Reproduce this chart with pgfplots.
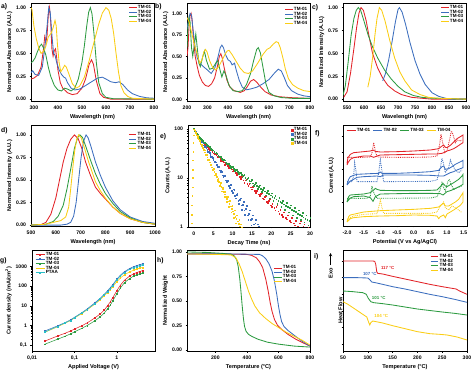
\documentclass[border=0pt]{standalone}
\usepackage{fontspec}
\setmainfont{Liberation Sans}
\usepackage{pgfplots}
\pgfplotsset{compat=1.18}
\definecolor{cR}{RGB}{226,35,40}
\definecolor{cB}{RGB}{60,110,190}
\definecolor{cG}{RGB}{45,155,65}
\definecolor{cY}{RGB}{250,205,20}
\definecolor{cC}{RGB}{40,190,200}
\pgfplotsset{
  P/.style={scale only axis, anchor=south west, tick align=outside, xtick pos=lower, ytick pos=left,
    major tick length=1.5pt, minor tick length=0.8pt,
    every tick/.style={black, line width=0.35pt}, axis line style={line width=0.45pt},
    tick label style={font=\fontsize{5.1}{5.5}\selectfont\bfseries},
    label style={font=\fontsize{5.6}{6.5}\selectfont\bfseries},
    xlabel style={yshift=2.5pt}, ylabel style={yshift=-3pt},
    legend style={font=\fontsize{4.6}{4.8}\selectfont\bfseries, draw=none, fill=none, inner sep=0.5pt, row sep=-1.8pt, nodes={inner sep=0.8pt}},
    legend cell align=left,
    legend image code/.code={\draw[##1, line width=0.9pt] (0pt,0pt) -- (7.5pt,0pt);},
    /pgf/number format/assume math mode=true,
    every axis plot/.append style={line width=0.85pt},
    tick label style={/pgf/number format/1000 sep={}},
  },
  Y2/.style={yticklabel style={/pgf/number format/.cd, fixed, fixed zerofill, precision=2}},
}
\begin{document}
\begin{tikzpicture}
\useasboundingbox (0pt,0pt) rectangle (474pt,370pt);
\tikzset{pl/.style={font=\fontsize{6.8}{7}\selectfont\bfseries, anchor=north west, inner sep=0pt}}
\node[pl] at (1pt,367pt) {a)};
\node[pl] at (155pt,367pt) {b)};
\node[pl] at (312pt,366pt) {c)};
\node[pl] at (1pt,243pt) {d)};
\node[pl] at (160pt,237pt) {e)};
\node[pl] at (315pt,240pt) {f)};
\node[pl] at (0pt,113pt) {g)};
\node[pl] at (157pt,113pt) {h)};
\node[pl] at (314pt,117pt) {i)};

% ---------- a
\begin{axis}[P, Y2, at={(31pt,269pt)}, width=123pt, height=98pt,
  xmin=288, xmax=800, ymin=-0.02, ymax=1.05, xtick={300,400,...,800}, ytick={0,0.25,0.5,0.75,1},
  xlabel={Wavelength (nm)}, ylabel={Normalized Absorbance (A.U.)},
  legend style={at={(0.99,0.99)}, anchor=north east}]
\addplot[cR] coordinates {(288,0.22)(300,0.23)(315,0.26)(330,0.35)(340,0.55)(345,0.68)(350,0.62)(355,0.70)(360,0.92)(365,1.00)(370,0.85)(375,0.55)(380,0.47)(385,0.53)(390,0.55)(395,0.45)(400,0.32)(410,0.18)(420,0.12)(440,0.07)(460,0.05)(480,0.06)(500,0.12)(515,0.22)(530,0.38)(540,0.43)(548,0.38)(560,0.2)(575,0.06)(590,0.02)(620,0.0)(800,0)};
\addlegendentry{TM-01}
\addplot[cB] coordinates {(288,0.29)(295,0.31)(305,0.27)(320,0.26)(335,0.35)(345,0.55)(355,0.8)(362,1.0)(368,0.95)(375,0.7)(382,0.5)(388,0.48)(395,0.4)(405,0.32)(415,0.27)(425,0.24)(432,0.23)(440,0.18)(455,0.12)(470,0.1)(490,0.11)(510,0.14)(540,0.19)(565,0.23)(585,0.24)(600,0.22)(620,0.19)(640,0.18)(655,0.19)(670,0.16)(690,0.1)(710,0.06)(740,0.03)(770,0.015)(800,0.01)};
\addlegendentry{TM-02}
\addplot[cG] coordinates {(288,0.40)(295,0.41)(305,0.45)(315,0.52)(325,0.58)(332,0.60)(340,0.56)(350,0.48)(360,0.35)(370,0.25)(385,0.15)(400,0.10)(415,0.09)(428,0.12)(440,0.11)(455,0.09)(470,0.12)(485,0.22)(500,0.4)(510,0.58)(520,0.8)(528,0.95)(535,1.0)(542,0.93)(550,0.72)(560,0.4)(570,0.18)(585,0.06)(600,0.02)(630,0.005)(800,0)};
\addlegendentry{TM-03}
\addplot[cY] coordinates {(288,1.0)(292,0.98)(300,0.8)(310,0.66)(320,0.56)(330,0.50)(340,0.52)(350,0.58)(360,0.68)(372,0.72)(380,0.78)(388,0.86)(393,0.8)(398,0.6)(405,0.4)(412,0.3)(420,0.33)(428,0.37)(435,0.35)(445,0.28)(460,0.17)(475,0.12)(490,0.14)(510,0.24)(530,0.42)(550,0.62)(570,0.82)(585,0.94)(600,1.0)(612,0.97)(622,0.88)(632,0.72)(642,0.5)(652,0.3)(662,0.15)(675,0.07)(690,0.03)(710,0.01)(800,0)};
\addlegendentry{TM-04}
\end{axis}

% ---------- b
\begin{axis}[P, Y2, at={(187pt,269pt)}, width=123pt, height=98pt,
  xmin=200, xmax=800, ymin=-0.02, ymax=1.12, xtick={200,300,...,800}, ytick={0,0.25,0.5,0.75,1},
  xlabel={Wavelength (nm)}, ylabel={Normalized Absorbance (A.U.)},
  legend style={at={(0.99,0.97)}, anchor=north east}]
\addplot[cR] coordinates {(200,0.5)(205,0.6)(210,0.85)(215,0.97)(220,1.0)(225,0.92)(232,0.7)(240,0.5)(250,0.38)(260,0.28)(275,0.2)(290,0.16)(305,0.15)(320,0.18)(335,0.25)(348,0.38)(358,0.5)(365,0.53)(372,0.48)(382,0.36)(395,0.22)(410,0.14)(430,0.1)(460,0.08)(480,0.1)(495,0.15)(510,0.21)(525,0.23)(540,0.2)(560,0.14)(580,0.09)(610,0.05)(650,0.03)(700,0.02)(800,0.01)};
\addlegendentry{TM-01}
\addplot[cB] coordinates {(200,0.82)(207,0.92)(215,1.0)(222,0.98)(230,0.8)(240,0.6)(250,0.48)(262,0.42)(280,0.38)(300,0.34)(318,0.3)(335,0.36)(350,0.48)(362,0.6)(370,0.63)(378,0.6)(388,0.52)(400,0.46)(412,0.44)(420,0.4)(432,0.42)(440,0.34)(455,0.22)(470,0.14)(490,0.11)(510,0.12)(540,0.14)(570,0.18)(600,0.23)(625,0.3)(645,0.35)(660,0.33)(675,0.25)(690,0.16)(710,0.1)(740,0.06)(770,0.04)(800,0.03)};
\addlegendentry{TM-02}
\addplot[cG] coordinates {(200,0.6)(205,0.85)(210,0.95)(215,0.9)(222,0.6)(228,0.5)(235,0.62)(243,0.76)(250,0.6)(258,0.42)(265,0.38)(275,0.48)(285,0.56)(295,0.45)(310,0.35)(325,0.36)(340,0.42)(350,0.45)(360,0.35)(370,0.26)(380,0.33)(390,0.28)(405,0.16)(425,0.1)(450,0.09)(470,0.1)(490,0.17)(510,0.3)(525,0.45)(540,0.58)(548,0.6)(558,0.54)(570,0.38)(585,0.18)(600,0.08)(625,0.04)(660,0.02)(720,0.01)(800,0.01)};
\addlegendentry{TM-03}
\addplot[cY] coordinates {(200,0.95)(210,0.9)(220,0.8)(235,0.65)(250,0.52)(262,0.42)(272,0.45)(282,0.55)(290,0.58)(298,0.55)(310,0.45)(325,0.37)(340,0.34)(355,0.38)(370,0.45)(385,0.52)(395,0.56)(405,0.57)(420,0.52)(440,0.44)(460,0.36)(480,0.31)(500,0.3)(520,0.33)(545,0.42)(570,0.52)(590,0.58)(605,0.6)(620,0.64)(635,0.67)(645,0.66)(655,0.6)(668,0.48)(680,0.35)(695,0.24)(715,0.17)(740,0.13)(770,0.1)(800,0.09)};
\addlegendentry{TM-04}
\end{axis}

% ---------- c
\begin{axis}[P, Y2, at={(343pt,269pt)}, width=123pt, height=98pt,
  xmin=538, xmax=900, ymin=-0.02, ymax=1.05, xtick={550,600,...,900}, ytick={0,0.25,0.5,0.75,1},
  xlabel={Wavelength (nm)}, ylabel={Normalized Intensity (A.U.)},
  legend style={at={(0.99,0.99)}, anchor=north east}]
\addplot[cR] coordinates {(540,0.02)(550,0.08)(560,0.28)(570,0.55)(578,0.78)(585,0.94)(591,1.0)(598,0.97)(606,0.86)(615,0.68)(625,0.5)(640,0.34)(655,0.23)(670,0.15)(690,0.09)(710,0.05)(740,0.02)(770,0.01)(800,0.0)(900,0)};
\addlegendentry{TM-01}
\addplot[cB] coordinates {(655,0.2)(663,0.28)(672,0.42)(682,0.62)(692,0.84)(700,0.98)(704,1.0)(712,0.95)(722,0.82)(735,0.62)(750,0.42)(765,0.27)(780,0.16)(800,0.07)(820,0.03)(850,0.0)(900,0)};
\addlegendentry{TM-02}
\addplot[cG] coordinates {(538,0.04)(545,0.15)(553,0.4)(562,0.7)(570,0.88)(577,0.97)(583,1.0)(590,0.97)(600,0.85)(612,0.7)(625,0.57)(640,0.45)(660,0.32)(680,0.22)(700,0.14)(720,0.08)(745,0.04)(770,0.02)(800,0.01)(900,0)};
\addlegendentry{TM-03}
\addplot[cY] coordinates {(611,0.13)(618,0.25)(625,0.45)(632,0.7)(638,0.88)(645,1.0)(652,0.97)(662,0.85)(675,0.65)(690,0.45)(705,0.3)(720,0.2)(740,0.1)(765,0.05)(790,0.02)(820,0.01)(900,0)};
\addlegendentry{TM-04}
\end{axis}

% ---------- d
\begin{axis}[P, Y2, at={(31pt,144pt)}, width=124pt, height=101pt,
  xmin=500, xmax=1000, ymin=-0.01, ymax=1.11, xtick={500,600,...,1000}, ytick={0,0.25,0.5,0.75,1},
  xlabel={Wavelength (nm)}, ylabel={Normalized Intensity (A.U.)},
  legend style={at={(0.98,0.94)}, anchor=north east}]
\addplot[cR] coordinates {(500,0)(540,0.005)(560,0.03)(580,0.12)(600,0.3)(615,0.5)(630,0.7)(645,0.85)(660,0.95)(675,1.0)(690,0.96)(705,0.85)(720,0.7)(740,0.55)(760,0.42)(780,0.35)(800,0.29)(830,0.2)(860,0.13)(900,0.07)(950,0.03)(1000,0.01)};
\addlegendentry{TM-01}
\addplot[cB] coordinates {(500,0)(620,0.0)(645,0.01)(660,0.03)(672,0.1)(682,0.25)(692,0.5)(702,0.75)(712,0.93)(722,1.0)(730,0.97)(742,0.87)(760,0.7)(780,0.55)(800,0.42)(830,0.27)(860,0.17)(900,0.09)(950,0.04)(1000,0.02)};
\addlegendentry{TM-02}
\addplot[cG] coordinates {(500,0)(560,0.01)(590,0.04)(610,0.1)(630,0.22)(645,0.4)(660,0.62)(675,0.85)(688,0.97)(697,1.0)(708,0.97)(720,0.88)(740,0.72)(760,0.57)(780,0.45)(800,0.35)(830,0.24)(860,0.15)(900,0.08)(950,0.03)(1000,0.01)};
\addlegendentry{TM-03}
\addplot[cY] coordinates {(500,0)(560,0.01)(590,0.03)(620,0.05)(640,0.09)(652,0.2)(660,0.4)(668,0.62)(676,0.82)(684,0.95)(692,1.0)(702,0.97)(715,0.86)(730,0.72)(745,0.6)(760,0.48)(780,0.38)(800,0.3)(830,0.2)(860,0.13)(900,0.07)(950,0.03)(1000,0.01)};
\addlegendentry{TM-04}
\end{axis}

% ---------- e
\begin{axis}[P, at={(188pt,143pt)}, width=122pt, height=102pt,
  xmin=-1.5, xmax=30, ymode=log, ymin=1, ymax=120, xtick={0,5,...,30}, ytick={1,10,100}, yticklabels={1,10,100},
  xlabel={Decay Time (ns)}, ylabel={Counts (A.U.)},
  legend style={at={(0.99,0.99)}, anchor=north east},
  legend image code/.code={\draw[#1, mark size=0.9pt] plot coordinates {(4pt,0pt)};},
  every axis plot/.append style={only marks, mark=square*, mark size=0.35pt, line width=0.2pt}]
\addplot[cR] coordinates {(0,100)(0.5,87)(1,73)(1.5,67)(2,57)(2.5,53)(3,46)(3.5,44)(4,38)(4.5,37)(5,32)(5.5,31.5)(6,27)(6.5,26.8)(7,22.5)(7.5,22.8)(8,19)(8.5,19.3)(9,16.2)(9.5,16.5)(10,13.8)(10.5,14.1)(11,11.6)(11.5,12.1)(12,9.6)(12.5,10.6)(13,8.1)(13.5,9.2)(14,7.0)(14.5,7.9)(15,5.9)(15.5,6.8)(16,5.1)(16.5,5.9)(17,4.4)(17.5,5.0)(18,3.7)(18.5,4.4)(19,3.1)(19.5,3.8)(20,2.6)(20.5,3.4)(21,2.2)(21.5,2.9)(22,1.9)(22.5,2.6)(23,1.65)(23.5,2.25)(24,1.45)(24.5,2.0)(25,1.25)(25.5,1.75)(26,1.1)(26.5,1.55)(27,0.95)(27.5,1.35)(28,0.85)(28.5,1.15)(29,0.75)(29.5,1.0)(30,0.65)
(0.25,92)(0.75,80)(1.25,71)(1.75,61)(2.25,56)(2.75,49)(3.25,45.5)(3.75,40)(4.25,38)(4.75,34)(5.25,31)(5.75,29.5)(6.25,26.5)(6.75,25)(7.25,23)(7.75,21)(8.25,19.8)(8.75,17.8)(9.25,16.9)(9.75,15.1)(10.25,14.6)(10.75,12.9)(11.25,12.4)(11.75,10.8)(12.25,10.6)(12.75,9.1)(13.25,9.0)(13.75,7.7)(14.25,7.6)(14.75,6.5)(15.25,6.6)(15.75,5.5)(16.25,5.6)(16.75,4.7)(17.25,4.8)(17.75,3.9)(18.25,4.1)(18.75,3.3)(19.25,3.5)(19.75,2.8)(20.25,3.0)(20.75,2.45)(21.25,2.6)(21.75,2.1)(22.25,2.3)(22.75,1.8)(23.25,2.0)(23.75,1.55)(24.25,1.75)(24.75,1.35)(25.25,1.55)(25.75,1.2)(26.25,1.35)(26.75,1.05)(27.25,1.2)(27.75,0.95)(28.25,1.05)};
\addlegendentry{TM-01}
\addplot[cB] coordinates {(0,100)(0.4,88)(0.8,80.5)(1.2,70)(1.6,64)(2.0,55.5)(2.4,51)(2.8,44)(3.2,40.8)(3.6,35)(4.0,32.6)(4.4,27.6)(4.8,26.2)(5.2,21.7)(5.6,21)(6.0,17.1)(6.4,16.9)(6.8,13.4)(7.2,13.6)(7.6,10.5)(8.0,11)(8.4,8.3)(8.8,8.9)(9.2,6.4)(9.6,7.2)(10.0,5.0)(10.4,5.8)(10.8,3.9)(11.2,4.8)(11.6,3.0)(12.0,3.9)(12.4,2.3)(12.8,3.3)(13.2,1.8)(13.6,2.7)(14.0,1.4)(14.4,2.2)(14.8,1.1)(15.2,1.75)(15.6,0.9)(16.0,1.4)(16.4,1.15)(16.8,1.05)(17.2,0.95)
(0.2,93)(0.6,85)(1.0,75)(1.4,68)(1.8,59)(2.2,54)(2.6,47)(3.0,43)(3.4,37.5)(3.8,34)(4.2,29.5)(4.6,27.2)(5.0,23.4)(5.4,21.8)(5.8,18.6)(6.2,17.4)(6.6,14.5)(7.0,14.1)(7.4,11.4)(7.8,11.3)(8.2,9.0)(8.6,9.1)(9.0,7.0)(9.4,7.3)(9.8,5.5)(10.2,5.9)(10.6,4.4)(11.0,4.6)(11.4,3.5)(11.8,3.6)(12.2,2.8)(12.6,2.9)(13.0,2.2)(13.4,2.4)(13.8,1.75)(14.2,1.9)(14.6,1.4)(15.0,1.5)(15.4,1.15)(15.8,1.2)};
\addlegendentry{TM-02}
\addplot[cG] coordinates {(0,100)(0.5,86)(1,76)(1.5,66)(2,61)(2.5,54)(3,51)(3.5,45)(4,43)(4.5,38)(5,37)(5.5,32)(6,31.5)(6.5,27)(7,27)(7.5,23)(8,23)(8.5,19.5)(9,19.8)(9.5,16.5)(10,16.8)(10.5,14.1)(11,14.8)(11.5,12.1)(12,13.0)(12.5,10.4)(13,11.6)(13.5,9.0)(14,10.3)(14.5,7.8)(15,9.2)(15.5,6.9)(16,8.1)(16.5,6.0)(17,7.1)(17.5,5.2)(18,6.3)(18.5,4.5)(19,5.6)(19.5,3.9)(20,4.9)(20.5,3.4)(21,4.4)(21.5,3.0)(22,4.0)(22.5,2.6)(23,3.5)(23.5,2.3)(24,3.1)(24.5,2.0)(25,2.8)(25.5,1.75)(26,2.5)(26.5,1.55)(27,2.2)(27.5,1.4)(28,1.95)(28.5,1.25)(29,1.75)(29.5,1.1)(30,1.55)
(0.25,93)(0.75,81)(1.25,71)(1.75,64)(2.25,57)(2.75,53)(3.25,48)(3.75,44.5)(4.25,40)(4.75,38)(5.25,34)(5.75,32.5)(6.25,29)(6.75,27.5)(7.25,24.8)(7.75,23.5)(8.25,21)(8.75,20.2)(9.25,18)(9.75,17.4)(10.25,15.4)(10.75,15)(11.25,13.3)(11.75,12.9)(12.25,11.6)(12.75,11.2)(13.25,10.1)(13.75,9.8)(14.25,8.8)(14.75,8.6)(15.25,7.8)(15.75,7.5)(16.25,6.9)(16.75,6.6)(17.25,6.1)(17.75,5.8)(18.25,5.4)(18.75,5.1)(19.25,4.8)(19.75,4.5)(20.25,4.2)(20.75,4.0)(21.25,3.7)(21.75,3.5)(22.25,3.3)(22.75,3.1)(23.25,2.95)(23.75,2.75)(24.25,2.6)(24.75,2.45)(25.25,2.3)(25.75,2.15)(26.25,2.05)(26.75,1.9)(27.25,1.8)(27.75,1.7)(28.25,1.6)(28.75,1.5)(29.25,1.4)(29.75,1.35)};
\addlegendentry{TM-03}
\addplot[cY] coordinates {(-0.6,1.2)(-0.55,1.8)(-0.5,2.8)(-0.45,4.3)(-0.4,6.5)(-0.35,10)(-0.3,15)(-0.25,23)(-0.2,35)(-0.15,52)(-0.1,75)(0,99)(0.3,90)(0.6,78)(0.9,72)(1.2,62)(1.5,57.5)(1.8,49)(2.1,46)(2.4,38.5)(2.7,36.8)(3.0,30)(3.3,29.5)(3.6,23.6)(3.9,23.8)(4.2,18.6)(4.5,19)(4.8,14.6)(5.1,15.3)(5.4,11.4)(5.7,12.3)(6.0,8.9)(6.3,9.9)(6.6,7.0)(6.9,8.0)(7.2,5.4)(7.5,6.4)(7.8,4.2)(8.1,5.2)(8.4,3.3)(8.7,4.2)(9.0,2.6)(9.3,3.4)(9.6,2.0)(9.9,2.7)(10.2,1.55)(10.5,2.2)(10.8,1.2)(11.1,1.75)(11.4,0.95)(11.7,1.4)(12.0,1.15)(12.3,1.0)
(0.15,95)(0.45,84)(0.75,75)(1.05,67)(1.35,60)(1.65,53)(1.95,47.5)(2.25,42)(2.55,37.5)(2.85,33.5)(3.15,29.8)(3.45,26.5)(3.75,23.7)(4.05,21)(4.35,18.8)(4.65,16.7)(4.95,14.9)(5.25,13.3)(5.55,11.8)(5.85,10.6)(6.15,9.4)(6.45,8.4)(6.75,7.5)(7.05,6.7)(7.35,5.9)(7.65,5.3)(7.95,4.7)(8.25,4.2)(8.55,3.75)(8.85,3.35)(9.15,3.0)(9.45,2.65)(9.75,2.35)(10.05,2.1)(10.35,1.85)(10.65,1.65)(10.95,1.5)(11.25,1.32)(11.55,1.18)(11.85,1.05)};
\addlegendentry{TM-04}
\end{axis}

% ---------- f
\begin{axis}[P, at={(343pt,144pt)}, width=124pt, height=101pt,
  xmin=-2.12, xmax=1.6, ymin=0, ymax=303, xtick={-2,-1.5,...,1.5}, ytick={20,70,...,270}, yticklabels={},
  xticklabel style={/pgf/number format/.cd, fixed, fixed zerofill, precision=1},
  xlabel={Potential (V vs Ag/AgCl)}, ylabel={Current (A.U.)},
  legend columns=4, legend style={at={(0.02,0.985)}, anchor=north west, /tikz/every even column/.append style={column sep=2pt}},
  legend image code/.code={\draw[#1, line width=0.9pt] (0pt,0pt) -- (9pt,0pt);}]
\addplot[cR] coordinates {(-2.0,188)(-1.97,205)(-1.9,215)(-1.8,220)(-1.5,223)(-1.3,225)(-1.22,228)(-1.15,224)(-1.0,222)(-0.5,223)(0,225)(0.5,228)(0.75,232)(0.85,240)(0.9,243)(0.95,236)(1.0,235)(1.1,242)(1.2,252)(1.3,262)(1.4,268)(1.48,273)(1.48,250)(1.4,245)(1.3,238)(1.2,232)(1.1,228)(1.0,225)(0.9,220)(0.85,218)(0.7,216)(0.5,216)(0,215)(-0.5,214)(-1.0,213)(-1.1,210)(-1.2,206)(-1.3,210)(-1.5,210)(-1.8,205)(-1.9,200)(-1.97,190)(-2.0,183)};
\addlegendentry{TM-01}
\addplot[cB] coordinates {(-2.0,125)(-1.95,140)(-1.9,148)(-1.8,152)(-1.7,155)(-1.3,157)(-1.05,158)(-1.0,162)(-0.95,158)(-0.5,158)(0,160)(0.5,163)(0.75,167)(0.85,178)(0.9,180)(0.95,170)(1.05,172)(1.15,178)(1.25,185)(1.35,190)(1.45,195)(1.48,197)(1.48,175)(1.4,172)(1.3,168)(1.2,163)(1.1,160)(1.0,155)(0.9,150)(0.8,150)(0.5,152)(0,153)(-0.5,153)(-0.9,153)(-1.0,148)(-1.1,150)(-1.5,148)(-1.7,146)(-1.8,140)(-1.9,135)(-2.0,123)};
\addlegendentry{TM-02}
\addplot[cG] coordinates {(-2.0,73)(-1.95,88)(-1.9,93)(-1.5,96)(-1.3,100)(-1.2,108)(-1.15,113)(-1.1,110)(-1.0,107)(-0.5,106)(0,106)(0.5,107)(0.7,108)(0.8,118)(0.88,128)(0.95,120)(1.0,118)(1.1,124)(1.2,130)(1.35,140)(1.45,150)(1.48,155)(1.48,125)(1.4,120)(1.3,115)(1.2,110)(1.1,106)(1.0,103)(0.88,93)(0.8,97)(0.5,98)(0,98)(-0.5,97)(-1.0,96)(-1.15,88)(-1.22,74)(-1.3,85)(-1.5,90)(-1.8,88)(-1.9,84)(-2.0,72)};
\addlegendentry{TM-03}
\addplot[cY] coordinates {(-2.0,13)(-1.95,28)(-1.9,33)(-1.5,42)(-1.0,46)(-0.5,48)(0,50)(0.5,53)(0.75,57)(0.85,65)(0.9,68)(0.95,60)(1.05,60)(1.15,66)(1.25,72)(1.35,80)(1.45,95)(1.48,100)(1.48,72)(1.4,62)(1.3,55)(1.2,48)(1.1,42)(1.0,36)(0.95,25)(0.9,33)(0.8,28)(0.75,22)(0.7,30)(0.5,32)(0,33)(-0.5,31)(-1.0,30)(-1.5,28)(-1.8,25)(-1.9,22)(-2.0,12)};
\addlegendentry{TM-04}
\addplot[cR, densely dotted, forget plot] coordinates {(-2.0,206)(-1.5,206)(-1.3,207)(-1.25,220)(-1.2,250)(-1.15,225)(-1.1,207)(-0.5,206)(0,206)(0.5,207)(0.7,210)(0.78,245)(0.82,275)(0.87,250)(0.93,220)(1.0,225)(1.08,260)(1.13,285)(1.18,275)(1.25,250)(1.3,258)(1.4,255)(1.45,258)};
\addplot[cB, densely dotted, forget plot] coordinates {(-2.0,133)(-1.85,133)(-1.8,150)(-1.77,190)(-1.73,165)(-1.7,133)(-1.1,133)(-1.05,160)(-1.0,198)(-0.95,165)(-0.9,133)(0.5,134)(0.7,138)(0.8,175)(0.85,203)(0.9,185)(0.95,160)(1.05,175)(1.1,198)(1.15,185)(1.25,168)(1.35,160)(1.45,168)};
\addplot[cG, densely dotted, forget plot] coordinates {(-2.0,83)(-1.4,83)(-1.3,90)(-1.25,120)(-1.2,100)(-1.1,83)(0.5,84)(0.7,88)(0.8,110)(0.85,130)(0.9,115)(0.95,105)(1.03,135)(1.07,140)(1.12,125)(1.2,110)(1.3,115)(1.45,120)};
\addplot[cY, densely dotted, forget plot] coordinates {(-2.0,20)(-1.8,30)(-1.5,35)(-1.1,37)(-1.05,55)(-1.0,78)(-0.95,55)(-0.9,38)(0.5,38)(0.7,42)(0.8,60)(0.9,72)(0.95,55)(1.05,48)(1.15,60)(1.25,55)(1.35,48)(1.45,40)};
\end{axis}

% ---------- g
\begin{axis}[P, at={(32pt,19pt)}, width=123pt, height=101pt,
  xmode=log, ymode=log, xmin=0.01, xmax=7.9, ymin=0.05, ymax=7000,
  xtick={0.01,0.1,1}, xticklabels={{0,01},{0,1},1}, ytick={0.1,1,10,100,1000}, yticklabels={{0,1},1,10,100,1000},
  xlabel={Applied Voltage (V)}, ylabel={Current density (mA/cm\textsuperscript{2})},
  legend style={at={(0.02,0.99)}, anchor=north west},
  legend image code/.code={\draw[mark repeat=2,mark phase=2,#1, line width=0.9pt] plot coordinates {(0pt,0pt)(4.5pt,0pt)(9pt,0pt)};},
  every axis plot/.append style={mark=square*, mark size=0.45pt, line width=0.55pt}]
\addplot[cR] coordinates {(0.02,0.16)(0.04,0.29)(0.06,0.4)(0.08,0.52)(0.1,0.65)(0.15,0.98)(0.2,1.35)(0.3,2.4)(0.4,3.8)(0.5,6)(0.6,10)(0.7,16)(0.8,26)(1.0,60)(1.2,110)(1.5,200)(2,330)(2.5,430)(3,510)(3.5,570)(4,620)};
\addlegendentry{TM-01}
\addplot[cB] coordinates {(0.02,0.52)(0.04,0.95)(0.06,1.4)(0.08,1.9)(0.1,2.6)(0.15,4.5)(0.2,7)(0.3,14)(0.4,24)(0.5,38)(0.6,58)(0.7,85)(0.8,120)(1.0,230)(1.2,360)(1.5,550)(2,800)(2.5,1000)(3,1150)(3.5,1270)(4,1370)};
\addlegendentry{TM-02}
\addplot[cG] coordinates {(0.02,0.11)(0.04,0.2)(0.06,0.28)(0.08,0.37)(0.1,0.47)(0.15,0.72)(0.2,1.0)(0.3,1.7)(0.4,2.7)(0.5,4.2)(0.6,7)(0.7,11)(0.8,18)(1.0,42)(1.2,80)(1.5,150)(2,250)(2.5,330)(3,390)(3.5,430)(4,460)};
\addlegendentry{TM-03}
\addplot[cY] coordinates {(0.02,0.45)(0.04,0.85)(0.06,1.3)(0.08,1.75)(0.1,2.4)(0.15,4.1)(0.2,6.3)(0.3,12)(0.4,20)(0.5,32)(0.6,47)(0.7,68)(0.8,95)(1.0,170)(1.2,260)(1.5,380)(2,540)(2.5,660)(3,760)(3.5,840)(4,900)};
\addlegendentry{TM-04}
\addplot[cC] coordinates {(0.02,0.46)(0.04,0.9)(0.06,1.35)(0.08,1.8)(0.1,2.5)(0.15,4.3)(0.2,6.6)(0.3,13)(0.4,22)(0.5,35)(0.6,53)(0.7,78)(0.8,110)(1.0,210)(1.2,330)(1.5,500)(2,730)(2.5,900)(3,1020)(3.5,1110)(4,1200)};
\addlegendentry{PTAA}
\end{axis}

% ---------- h
\begin{axis}[P, Y2, at={(187pt,19pt)}, width=123pt, height=101pt,
  xmin=20, xmax=800, ymin=-0.01, ymax=1.02, xtick={200,400,600,800}, ytick={0,0.25,0.5,0.75,1},
  xlabel={Temperature (°C)}, ylabel={Normalized Weight},
  legend style={at={(0.7,0.86)}, anchor=north west}]
\addplot[cR] coordinates {(20,0.98)(200,0.98)(400,0.975)(430,0.965)(460,0.94)(480,0.9)(500,0.84)(520,0.72)(535,0.6)(548,0.48)(560,0.39)(575,0.31)(595,0.25)(620,0.21)(660,0.16)(710,0.11)(760,0.07)(800,0.04)};
\addlegendentry{TM-01}
\addplot[cB] coordinates {(20,0.98)(300,0.98)(480,0.975)(500,0.96)(520,0.93)(540,0.88)(560,0.8)(575,0.7)(590,0.56)(600,0.45)(610,0.36)(620,0.29)(635,0.24)(660,0.2)(700,0.15)(750,0.09)(800,0.04)};
\addlegendentry{TM-02}
\addplot[cG] coordinates {(20,1.0)(150,0.995)(250,0.985)(300,0.975)(320,0.96)(335,0.92)(345,0.85)(355,0.72)(362,0.6)(370,0.45)(378,0.32)(385,0.24)(395,0.19)(410,0.16)(430,0.14)(470,0.11)(530,0.08)(600,0.06)(700,0.04)(800,0.03)};
\addlegendentry{TM-03}
\addplot[cY] coordinates {(20,0.98)(200,0.975)(300,0.97)(330,0.94)(350,0.88)(370,0.8)(390,0.7)(410,0.6)(430,0.52)(450,0.45)(480,0.38)(520,0.32)(560,0.27)(600,0.23)(650,0.18)(700,0.14)(750,0.1)(800,0.05)};
\addlegendentry{TM-04}
\end{axis}

% ---------- i
\begin{axis}[P, at={(343pt,19pt)}, width=124pt, height=101pt,
  xmin=50, xmax=300, ymin=0, ymax=303, xtick={50,100,...,300}, ytick={20,70,...,270}, yticklabels={},
  xlabel={Temperature (°C)}, ylabel={Heat Flow}, ylabel style={at={(rel axis cs:0,0.4)}},
  legend style={at={(0.7,0.97)}, anchor=north west},
  after end axis/.code={\node[rotate=90, font=\fontsize{5.6}{6.5}\selectfont\bfseries] at (rel axis cs:-0.1,0.77) {Exo};
    \draw[-stealth, line width=0.45pt] (rel axis cs:-0.1,0.85) -- (rel axis cs:-0.1,0.97);}]
\addplot[cR] coordinates {(50,270)(80,270)(110,270)(114,269)(116,260)(118,238)(120,233)(130,231)(150,224)(175,216)(200,208)(225,200)(250,193)(270,188)(278,186)(285,180)(300,170)};
\addlegendentry{TM-01}
\addplot[cB] coordinates {(50,220)(80,220)(100,219)(104,214)(108,207)(115,205)(130,200)(150,193)(175,186)(200,178)(225,170)(250,163)(275,155)(300,146)};
\addlegendentry{TM-02}
\addplot[cG] coordinates {(50,180)(70,178)(90,175)(97,170)(101,158)(106,148)(112,145)(130,142)(150,138)(200,126)(250,117)(275,113)(300,108)};
\addlegendentry{TM-03}
\addplot[cY] coordinates {(50,148)(60,140)(70,130)(80,120)(90,110)(98,102)(102,85)(104,78)(106,85)(110,90)(120,87)(130,84)(150,76)(175,67)(200,58)(225,52)(245,50)(260,48)(280,42)(300,33)};
\addlegendentry{TM-04}
\node[font=\fontsize{4.4}{5}\selectfont\bfseries, text=cR] at (axis cs:140,248) {117 °C};
\node[font=\fontsize{4.4}{5}\selectfont\bfseries, text=cB] at (axis cs:104,230) {107 °C};
\node[font=\fontsize{4.4}{5}\selectfont\bfseries, text=cG] at (axis cs:122,158) {101 °C};
\node[font=\fontsize{4.4}{5}\selectfont\bfseries, text=cY] at (axis cs:127,104) {104 °C};
\end{axis}
\end{tikzpicture}
\end{document}
